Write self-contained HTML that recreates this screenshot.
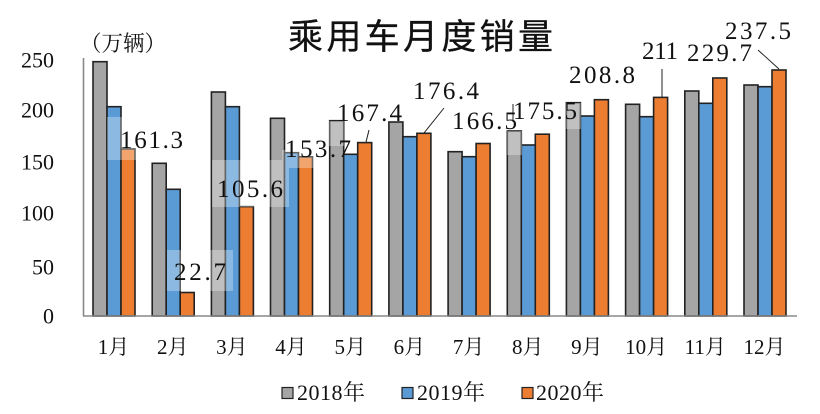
<!DOCTYPE html>
<html>
<head>
<meta charset="utf-8">
<style>
  html,body{margin:0;padding:0;background:#fff;}
  svg{display:block;}
  .num{font-family:"Liberation Serif","Noto Serif CJK SC",serif;fill:#111;}
  .cjk{font-family:"Liberation Serif","Noto Serif CJK SC",serif;fill:#111;}
</style>
</head>
<body>
<svg width="820" height="414" viewBox="0 0 820 414" xmlns="http://www.w3.org/2000/svg">
  <rect width="820" height="414" fill="#fff"/>

  <!-- Title -->
  <text x="288" y="49" textLength="265" lengthAdjust="spacing" font-family="'Noto Sans CJK SC', sans-serif" font-weight="400" font-size="35" fill="#111" stroke="#111" stroke-width="0.3">乘用车月度销量</text>

  <!-- unit -->
  <text class="cjk" x="80" y="51" textLength="86" lengthAdjust="spacingAndGlyphs" font-size="22">（万辆）</text>

  <!-- Y tick labels -->
  <g class="num" font-size="22" text-anchor="end">
    <text x="54" y="67.5">250</text>
    <text x="54" y="117.5">200</text>
    <text x="54" y="169.5">150</text>
    <text x="54" y="220.5">100</text>
    <text x="54" y="274.5">50</text>
    <text x="54" y="323.5">0</text>
  </g>

  <!-- Bars -->
  <g stroke="#222" stroke-width="1.6">
    <rect x="93.0" y="61.7" width="14" height="254.3" fill="#a5a5a5"/>
    <rect x="107.0" y="106.7" width="14" height="209.3" fill="#5b9bd5"/>
    <rect x="121.0" y="148.9" width="14" height="167.1" fill="#ed7d31"/>
    <rect x="152.2" y="163.3" width="14" height="152.7" fill="#a5a5a5"/>
    <rect x="166.2" y="189.3" width="14" height="126.7" fill="#5b9bd5"/>
    <rect x="180.2" y="292.5" width="14" height="23.5" fill="#ed7d31"/>
    <rect x="211.4" y="92.0" width="14" height="224.0" fill="#a5a5a5"/>
    <rect x="225.4" y="106.7" width="14" height="209.3" fill="#5b9bd5"/>
    <rect x="239.4" y="206.6" width="14" height="109.4" fill="#ed7d31"/>
    <rect x="270.5" y="118.3" width="14" height="197.7" fill="#a5a5a5"/>
    <rect x="284.5" y="152.7" width="14" height="163.3" fill="#5b9bd5"/>
    <rect x="298.5" y="156.8" width="14" height="159.2" fill="#ed7d31"/>
    <rect x="329.7" y="120.7" width="14" height="195.3" fill="#a5a5a5"/>
    <rect x="343.7" y="154.3" width="14" height="161.7" fill="#5b9bd5"/>
    <rect x="357.7" y="142.6" width="14" height="173.4" fill="#ed7d31"/>
    <rect x="388.9" y="122.0" width="14" height="194.0" fill="#a5a5a5"/>
    <rect x="402.9" y="136.7" width="14" height="179.3" fill="#5b9bd5"/>
    <rect x="416.9" y="133.3" width="14" height="182.7" fill="#ed7d31"/>
    <rect x="448.1" y="151.7" width="14" height="164.3" fill="#a5a5a5"/>
    <rect x="462.1" y="156.7" width="14" height="159.3" fill="#5b9bd5"/>
    <rect x="476.1" y="143.5" width="14" height="172.5" fill="#ed7d31"/>
    <rect x="507.3" y="131.0" width="14" height="185.0" fill="#a5a5a5"/>
    <rect x="521.3" y="145.0" width="14" height="171.0" fill="#5b9bd5"/>
    <rect x="535.3" y="134.2" width="14" height="181.8" fill="#ed7d31"/>
    <rect x="566.4" y="102.7" width="14" height="213.3" fill="#a5a5a5"/>
    <rect x="580.4" y="116.0" width="14" height="200.0" fill="#5b9bd5"/>
    <rect x="594.4" y="99.7" width="14" height="216.3" fill="#ed7d31"/>
    <rect x="625.6" y="104.3" width="14" height="211.7" fill="#a5a5a5"/>
    <rect x="639.6" y="116.7" width="14" height="199.3" fill="#5b9bd5"/>
    <rect x="653.6" y="97.4" width="14" height="218.6" fill="#ed7d31"/>
    <rect x="684.8" y="91.0" width="14" height="225.0" fill="#a5a5a5"/>
    <rect x="698.8" y="103.3" width="14" height="212.7" fill="#5b9bd5"/>
    <rect x="712.8" y="78.0" width="14" height="238.0" fill="#ed7d31"/>
    <rect x="744.0" y="85.0" width="14" height="231.0" fill="#a5a5a5"/>
    <rect x="758.0" y="86.7" width="14" height="229.3" fill="#5b9bd5"/>
    <rect x="772.0" y="70.0" width="14" height="246.0" fill="#ed7d31"/>
  </g>

  <!-- Axes -->
  <line x1="83.5" y1="58" x2="83.5" y2="316" stroke="#888" stroke-width="1.6"/>
  <line x1="83" y1="316" x2="797" y2="316" stroke="#888" stroke-width="1.6"/>

  <!-- Semi-transparent label boxes -->
  <g fill="#fff" opacity="0.3">
    <rect x="107" y="117" width="30" height="43"/>
    <rect x="167" y="250" width="66" height="41"/>
    <rect x="212" y="160" width="77" height="47"/>
    <rect x="282" y="150" width="32" height="18"/>
    <rect x="329" y="121" width="15" height="25"/>
    <rect x="507" y="131" width="15" height="24"/>
    <rect x="566" y="103" width="15" height="26"/>
  </g>

  <!-- Leader lines -->
  <g stroke="#222" stroke-width="1" fill="none">
    <line x1="369" y1="130" x2="366" y2="142"/>
    <line x1="444" y1="108" x2="424" y2="133"/>
    <line x1="662" y1="69" x2="662" y2="98"/>
    <line x1="758" y1="50" x2="779" y2="69"/>
    <line x1="513" y1="104" x2="513" y2="122"/>
  </g>

  <!-- Data labels -->
  <g class="num" font-size="25">
    <text x="120" y="148" textLength="63" lengthAdjust="spacing">161.3</text>
    <text x="174" y="280" textLength="52" lengthAdjust="spacing">22.7</text>
    <text x="217" y="197" textLength="66" lengthAdjust="spacing">105.6</text>
    <text x="285" y="157" textLength="66" lengthAdjust="spacing">153.7</text>
    <text x="337" y="121" textLength="65" lengthAdjust="spacing">167.4</text>
    <text x="413" y="99" textLength="66" lengthAdjust="spacing">176.4</text>
    <text x="452" y="129" textLength="65" lengthAdjust="spacing">166.5</text>
    <text x="513" y="119" textLength="64" lengthAdjust="spacing">175.5</text>
    <text x="569" y="83" textLength="66" lengthAdjust="spacing">208.8</text>
    <text x="642" y="59" textLength="36" lengthAdjust="spacing">211</text>
    <text x="687" y="61" textLength="65" lengthAdjust="spacing">229.7</text>
    <text x="725" y="39" textLength="66" lengthAdjust="spacing">237.5</text>
  </g>

  <!-- X labels -->
  <g class="cjk" font-size="21" text-anchor="middle">
    <text x="113.5" y="354">1月</text>
    <text x="172.7" y="354">2月</text>
    <text x="231.9" y="354">3月</text>
    <text x="291.0" y="354">4月</text>
    <text x="350.2" y="354">5月</text>
    <text x="409.4" y="354">6月</text>
    <text x="468.6" y="354">7月</text>
    <text x="527.8" y="354">8月</text>
    <text x="586.9" y="354">9月</text>
    <text x="646.1" y="354">10月</text>
    <text x="705.3" y="354">11月</text>
    <text x="764.5" y="354">12月</text>
  </g>

  <!-- Legend -->
  <g stroke="#222" stroke-width="1.2">
    <rect x="282" y="387.5" width="11" height="11" fill="#a5a5a5"/>
    <rect x="402" y="387.5" width="11" height="11" fill="#5b9bd5"/>
    <rect x="522" y="387.5" width="11" height="11" fill="#ed7d31"/>
  </g>
  <g class="cjk" font-size="22">
    <text x="297" y="400" textLength="68" lengthAdjust="spacing">2018年</text>
    <text x="417" y="400" textLength="68" lengthAdjust="spacing">2019年</text>
    <text x="536" y="400" textLength="68" lengthAdjust="spacing">2020年</text>
  </g>
</svg>
</body>
</html>
